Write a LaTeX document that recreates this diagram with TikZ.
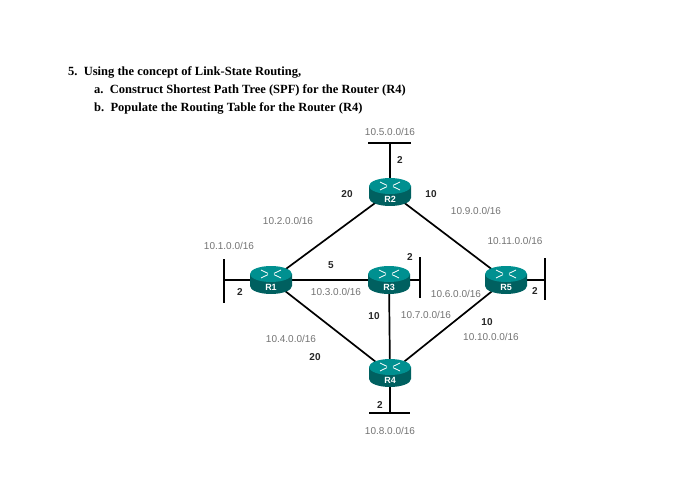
\documentclass[tikz,border=0pt]{standalone}
\usepackage{fontspec}
\setmainfont{Liberation Serif}
\newfontfamily\lab{Liberation Sans}
\begin{document}
\begin{tikzpicture}[x=1pt,y=-1pt,
  net/.style={font=\lab\fontsize{10}{12}\selectfont,text=black!55,inner sep=0pt},
  cost/.style={font=\lab\bfseries\fontsize{10}{12}\selectfont,text=black!85,inner sep=0pt},
  ttl/.style={font=\bfseries\fontsize{12.5}{14}\selectfont,anchor=west,inner sep=0pt},
  wire/.style={line width=1.7pt,black}]
\useasboundingbox (0,0) rectangle (696,489);
\newcommand\router[3]{%
 \begin{scope}[shift={#2}]
  \fill[teal!75!black] (-21,-6) -- (-21,6) arc[start angle=180,end angle=0,x radius=21,y radius=8] -- (21,-6) -- cycle;
  \fill[teal!50!cyan!75!black] (0,-6) ellipse[x radius=21,y radius=8];
  \draw[white,line width=0.8pt] (-10,-10)--(-3,-6.6) (-10,-2)--(-3,-5.4) (10,-10)--(3,-6.6) (10,-2)--(3,-5.4);
  \node[font=\lab\bfseries\fontsize{9}{10}\selectfont,text=white,inner sep=0pt] at (0,7) {#3};
 \end{scope}}
\coordinate (R1) at (271,280); \coordinate (R2) at (390,192);
\coordinate (R3) at (389,280); \coordinate (R4) at (390,373);
\coordinate (R5) at (506,280);
\coordinate (s2) at (390,143); \coordinate (s1) at (224,280);
\coordinate (s3) at (420,280); \coordinate (s5) at (545,280);
\coordinate (s4) at (390,413);
\draw[wire] (R1)--(R2) (R2)--(R5) (R1)--(R3) (R1)--(R4) (R3)--(R4) (R5)--(R4)
 (R2)--(s2) (R1)--(s1) (R3)--(s3) (R5)--(s5) (R4)--(s4);
\draw[wire] (368,143)--(411,143) (224,259)--(224,303) (420,257)--(420,298) (545,258)--(545,300) (369,413)--(410,413);
\router{r1}{(R1)}{R1}\router{r2}{(R2)}{R2}\router{r3}{(R3)}{R3}\router{r4}{(R4)}{R4}\router{r5}{(R5)}{R5}
\node[net] at (390,132) {10.5.0.0/16};
\node[cost] at (400,160) {2};
\node[cost] at (347,194) {20};
\node[cost] at (431,194) {10};
\node[net] at (476,211) {10.9.0.0/16};
\node[net] at (288,221) {10.2.0.0/16};
\node[net] at (229,246) {10.1.0.0/16};
\node[net] at (515,241) {10.11.0.0/16};
\node[cost] at (331,265) {5};
\node[cost] at (410,257) {2};
\node[cost] at (240,292) {2};
\node[net] at (336,292) {10.3.0.0/16};
\node[net] at (456,294) {10.6.0.0/16};
\node[cost] at (535,291) {2};
\node[cost] at (374,316) {10};
\node[net] at (426,315) {10.7.0.0/16};
\node[cost] at (487,322) {10};
\node[net] at (491,337) {10.10.0.0/16};
\node[net] at (291,339) {10.4.0.0/16};
\node[cost] at (315,357) {20};
\node[cost] at (380,405) {2};
\node[net] at (390,431) {10.8.0.0/16};
\node[ttl] at (68,72) {5.\ \ Using the concept of Link-State Routing,};
\node[ttl] at (94,90) {a.\ \ Construct Shortest Path Tree (SPF) for the Router (R4)};
\node[ttl] at (94,108) {b.\ \ Populate the Routing Table for the Router (R4)};
\end{tikzpicture}
\end{document}
